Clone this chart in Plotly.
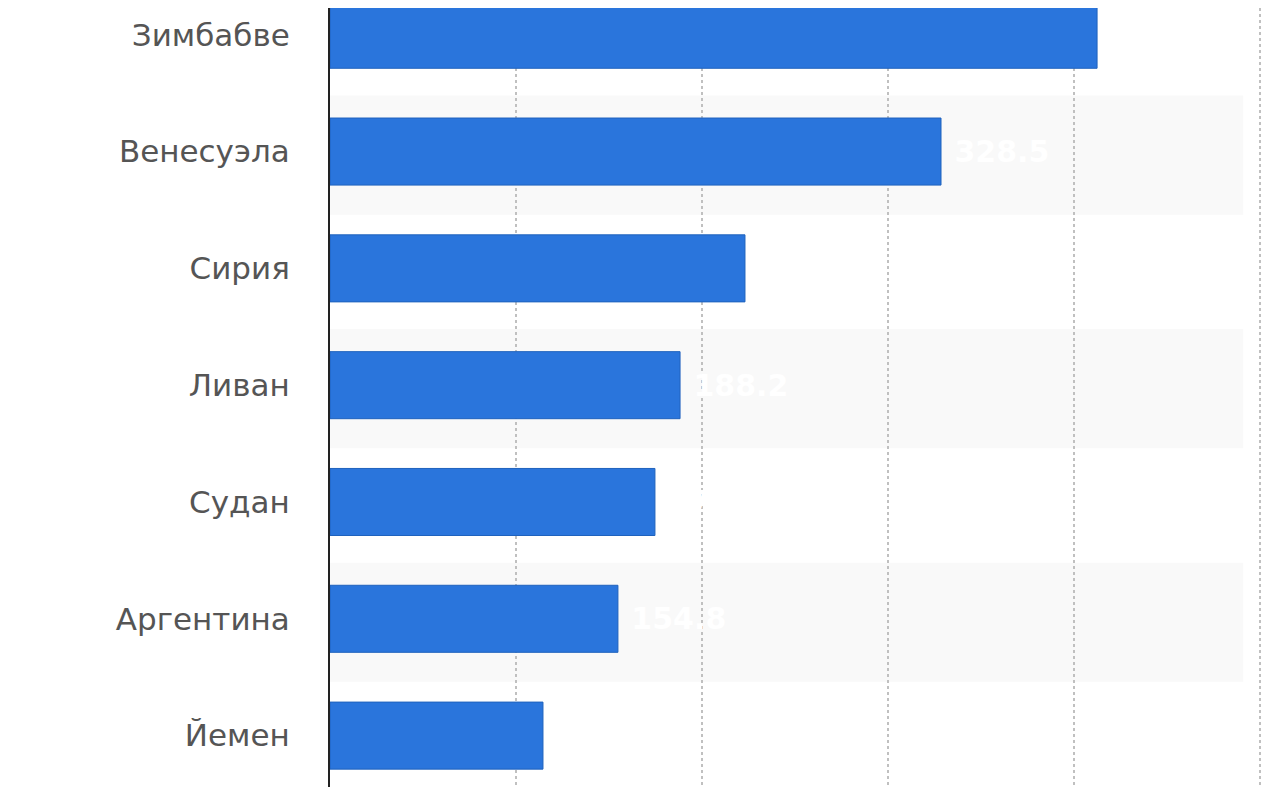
import plotly.graph_objects as go

countries = ["Зимбабве", "Венесуэла", "Сирия", "Ливан", "Судан", "Аргентина", "Йемен"]
values = [412.4, 328.5, 223.1, 188.2, 174.7, 154.8, 114.5]
grid_ticks = [100, 200, 300, 400, 500]

fig = go.Figure()

# light grey bands behind every second row
shapes = []
for i in range(1, len(countries), 2):
    shapes.append(dict(type="rect", xref="x", yref="y", layer="below",
                       x0=0, x1=491, y0=i - 0.48, y1=i + 0.54,
                       fillcolor="#f9f9f9", line=dict(width=0)))

fig.add_trace(go.Bar(
    x=values, y=countries, orientation="h", width=0.574,
    marker=dict(color="#2a75dc", line=dict(color="#1f62bd", width=1)),
    texttemplate="\u00a0%{x:.1f}", textposition="outside", constraintext="none",
    textfont=dict(family="DejaVu Sans", size=30, color="white", weight="bold"),
    cliponaxis=False,
))

fig.update_layout(
    width=1272, height=779,
    margin=dict(l=322, r=0, t=0, b=0),
    plot_bgcolor="white", paper_bgcolor="white",
    showlegend=False, shapes=shapes,
    xaxis=dict(range=[0, 510.75], tickvals=grid_ticks, showticklabels=False,
               showgrid=True, gridcolor="#c0c0c0", gridwidth=1.5, griddash="dot",
               zeroline=False, showline=False),
    yaxis=dict(range=[6.44, -0.229], showline=True, linecolor="#222222", linewidth=2,
               showgrid=False, ticks="", ticklabelstandoff=32,
               tickfont=dict(family="DejaVu Sans", size=31, color="#555555")),
)

fig.write_html("out.html")
